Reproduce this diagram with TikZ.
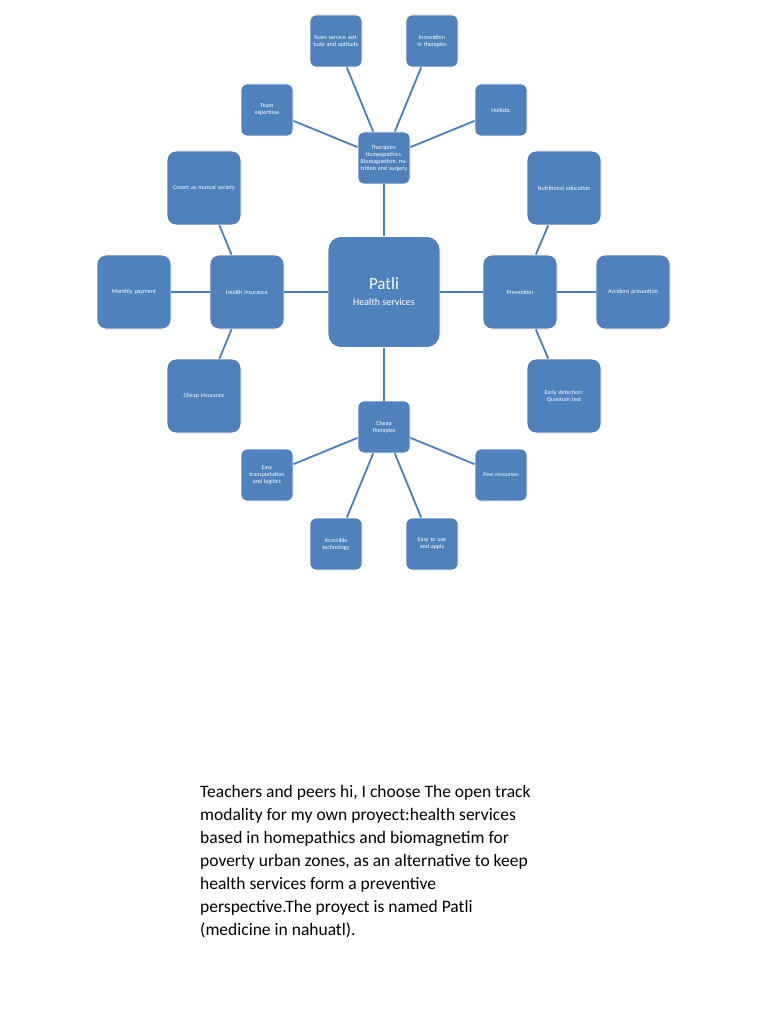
\documentclass[tikz,border=0pt]{standalone}
\usepackage{fontspec}
\setmainfont{Carlito}
\begin{document}
\begin{tikzpicture}[x=1pt,y=-1pt,
  bx/.style={draw=white,line width=0.8pt,fill=boxblue,rounded corners=6pt,text=white,align=center,inner sep=1pt,font=\fontsize{6}{7}\selectfont},
  sm/.style={bx,minimum width=52pt,minimum height=52pt,text width=48pt},
  md/.style={bx,minimum width=74pt,minimum height=74pt,text width=68pt,rounded corners=9pt},
  ln/.style={draw=lineblue,line width=1.8pt}]
\definecolor{boxblue}{HTML}{4F81BD}
\definecolor{lineblue}{HTML}{4A7EBB}
\useasboundingbox (0,0) rectangle (768,1024);
\node[bx,minimum width=112pt,minimum height=111pt,rounded corners=13pt] (c) at (384,292) {{\fontsize{17}{20}\selectfont Patli}\\[8pt]{\fontsize{10}{12}\selectfont Health services}};
\node[sm] (t) at (384,158) {Therapies:\\Homeopathics, Biomagnetism, nutrition and surgery};
\node[sm] (ch) at (384,427) {Cheap\\therapies};
\node[md] (hi) at (247,292) {Health insurance};
\node[md] (pr) at (520,292) {Prevention};
\node[md] (cv) at (204,188) {Covert as mutual society};
\node[md] (mp) at (134,292) {Monthly payment};
\node[md] (ci) at (204,396) {Cheap insurance};
\node[md] (ne) at (564,188) {Nutritional education};
\node[md] (ap) at (633,292) {Accident prevention};
\node[md] (ed) at (564,396) {Early detection: Quantum test};
\node[sm] (ts) at (336,41) {Team service actitude and aptitude};
\node[sm] (in) at (432,41) {Innovation in therapies};
\node[sm] (te) at (267,110) {Team\\expertisse};
\node[sm] (ho) at (501,110) {Hollistic};
\node[sm] (et) at (267,475) {Easy\\transportation and logitics};
\node[sm] (fr) at (501,475) {Few resourses};
\node[sm] (ac) at (336,544) {Accesible technology};
\node[sm] (eu) at (432,544) {Easy to use and apply};
\foreach \a/\b in {c/t,c/ch,c/hi,c/pr,hi/cv,hi/mp,hi/ci,pr/ne,pr/ap,pr/ed,t/ts,t/in,t/te,t/ho,ch/et,ch/fr,ch/ac,ch/eu}
  \path[ln] (\a) -- (\b);
\node[anchor=north west,align=left,inner sep=0pt,font=\fontsize{17.5}{23}\selectfont] (txt) at (200,785) {Teachers and peers hi, I choose The open track\\modality for my own proyect:health services\\based in homepathics and biomagnetim for\\poverty urban zones, as an alternative to keep\\health services form a preventive\\perspective.The proyect is named Patli\\(medicine in nahuatl).};
\end{tikzpicture}
\end{document}
